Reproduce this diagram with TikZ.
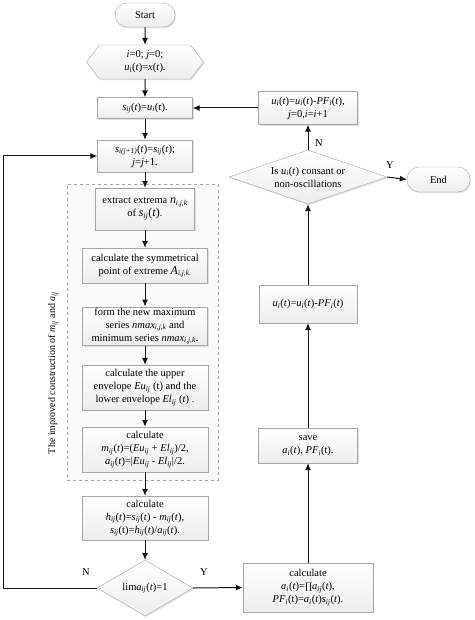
\documentclass[tikz,border=0pt]{standalone}
\usepackage{fontspec}
\setmainfont{Liberation Serif}
\newfontfamily\symfnt{DejaVu Serif}
\usetikzlibrary{shapes.geometric,shapes.symbols,shadows,arrows.meta}
\newcommand{\vr}[1]{\textit{#1}}
\newcommand{\ix}[1]{\textsubscript{\textit{#1}}}
\tikzset{
  blk/.style={draw=gray!70,top color=white,bottom color=gray!14,
    drop shadow={shadow xshift=1.2pt,shadow yshift=-1.2pt,fill=gray!45},
    align=center,inner sep=1pt,font=\fontsize{10.5}{13}\selectfont},
  term/.style={blk,rounded corners=12pt},
  dec/.style={blk,diamond,inner sep=0pt},
  flow/.style={->,line width=1pt,draw=gray!15!black},
  lbl/.style={font=\fontsize{10.5}{13}\selectfont},
}
\begin{document}
\begin{tikzpicture}[x=1pt,y=-1pt,>={Latex[length=7pt,width=6pt]}]
  \useasboundingbox[fill=white] (0,0) rectangle (474,620);
  % dashed group
  \node[draw=gray!70,dashed,fill=gray!4,minimum width=151pt,minimum height=296pt,inner sep=0pt]
    (grp) at (142.5,332) {};
  \node[rotate=90,font=\fontsize{10}{12}\selectfont] (grplbl) at (53,373)
    {The improved construction of \vr{m}\ix{ij} and \vr{a}\ix{ij}};
  % main column
  \node[term,minimum width=60pt,minimum height=24pt] (start) at (145,15) {Start};
  \node[blk,signal,signal to=east and west,signal pointer angle=105,
    minimum width=117pt,minimum height=34pt] (init) at (145,62)
    {\vr{i}=0; \vr{j}=0;\\ \vr{u}\ix{i}(\vr{t})=\vr{x}(\vr{t}).};
  \node[blk,minimum width=95pt,minimum height=21pt] (sij) at (145,108)
    {\vr{s}\ix{ij}(\vr{t})=\vr{u}\ix{i}(\vr{t}).};
  \node[blk,minimum width=95pt,minimum height=32pt] (sijj) at (145,156)
    {\vr{s}\ix{i(j+1)}(\vr{t})=\vr{s}\ix{ij}(\vr{t});\\ \vr{j}=\vr{j}+1.};
  \node[blk,minimum width=99pt,minimum height=42pt] (extr) at (145,209)
    {extract extrema {\large\vr{n}}\ix{i,j,k}\\ of {\large\vr{s}\ix{ij}(\vr{t})}.};
  \node[blk,minimum width=125pt,minimum height=35pt] (sym) at (145,265.5)
    {calculate the symmetrical\\ point of extreme {\large\vr{A}}\ix{i,j,k.}};
  \node[blk,minimum width=125pt,minimum height=37pt] (form) at (145,326)
    {form the new maximum\\ series \vr{nmax}\ix{i,j,k} and\\ minimum series \vr{nmax}\ix{i,j,k}.};
  \node[blk,minimum width=126pt,minimum height=45pt] (env) at (145,387.5)
    {calculate the upper\\ envelope \vr{Eu}\ix{ij} (t) and the\\ lower envelope \vr{El}\ix{ij} (\vr{t}) .};
  \node[blk,minimum width=126pt,minimum height=45pt] (mcalc) at (145,449.5)
    {calculate\\ \vr{m}\ix{ij}(\vr{t})=(\vr{Eu}\ix{ij} + \vr{El}\ix{ij})/2,\\
     \vr{a}\ix{ij}(\vr{t})=|\vr{Eu}\ix{ij} - \vr{El}\ix{ij}|/2.};
  \node[blk,minimum width=126pt,minimum height=44pt] (hcalc) at (145,518)
    {calculate\\ \vr{h}\ix{ij}(\vr{t})=\vr{s}\ix{ij}(\vr{t}) - \vr{m}\ix{ij}(\vr{t}),\\
     \vr{s}\ix{ij}(t)=\vr{h}\ix{ij}(\vr{t})/\vr{a}\ix{ij}(\vr{t}).};
  \node[dec,aspect=1.7,minimum width=96pt,minimum height=56pt] (lim) at (145,588)
    {lim\vr{a}\ix{ij}(\vr{t})=1};
  % right column
  \node[blk,minimum width=130pt,minimum height=49pt] (acalc) at (308,587.5)
    {calculate\\ \vr{a}\ix{i}(\vr{t})={\symfnt\small ∏}\vr{a}\ix{ij}(\vr{t}),\\
     \vr{PF}\ix{i}(t)=\vr{a}\ix{i}(\vr{t})\vr{s}\ix{ij}(\vr{t}).};
  \node[blk,minimum width=99pt,minimum height=35pt] (save) at (308,445.5)
    {save\\ \vr{a}\ix{i}(\vr{t}), \vr{PF}\ix{i}(t).};
  \node[blk,minimum width=98pt,minimum height=38pt] (ures) at (308,304)
    {\vr{u}\ix{i}(\vr{t})=\vr{u}\ix{i}(\vr{t})-\vr{PF}\ix{i}(\vr{t})};
  \node[dec,aspect=2.9,minimum width=158pt,minimum height=54pt] (isd) at (308,177)
    {Is \vr{u}\ix{i}(\vr{t}) consant or\\ non-oscillations};
  \node[blk,minimum width=99pt,minimum height=33pt] (upd) at (308,108)
    {\vr{u}\ix{i}(\vr{t})=\vr{u}\ix{i}(\vr{t})-\vr{PF}\ix{i}(\vr{t}),\\ \vr{j}=0,\vr{i}=\vr{i}+1};
  \node[term,minimum width=63pt,minimum height=25pt] (end) at (438.5,179.5) {End};
  % connectors
  \draw[flow] (start) -- (init);
  \draw[flow] (init) -- (sij);
  \draw[flow] (sij) -- (sijj);
  \draw[flow] (sijj) -- (extr);
  \draw[flow] (extr) -- (sym);
  \draw[flow] (sym) -- (form);
  \draw[flow] (form) -- (env);
  \draw[flow] (env) -- (mcalc);
  \draw[flow] (mcalc) -- (hcalc);
  \draw[flow] (hcalc) -- (lim);
  \coordinate (loop) at (3,588);
  \draw[flow] (lim.west) -- (loop) |- (sijj.west);
  \draw[flow] (lim.east) -- (acalc.west);
  \draw[flow] (acalc) -- (save);
  \draw[flow] (save) -- (ures);
  \draw[flow] (ures) -- (isd);
  \draw[flow] (isd) -- (upd);
  \draw[flow] (isd.east) -- (end.west);
  \draw[flow] (upd.west) -- (sij.east);
  % branch labels
  \node[lbl] (limn) at (86,572) {N};
  \node[lbl] (limy) at (204,572) {Y};
  \node[lbl] (isdn) at (319,143) {N};
  \node[lbl] (isdy) at (390,165) {Y};
\end{tikzpicture}
\end{document}
